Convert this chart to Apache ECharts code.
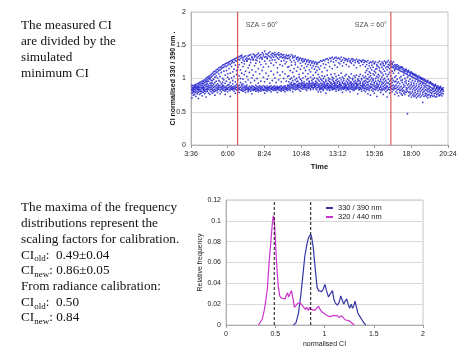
<!DOCTYPE html>
<html><head><meta charset="utf-8">
<script src="https://cdn.jsdelivr.net/npm/echarts@6.0.0/dist/echarts.min.js"></script>
<style>html,body{margin:0;padding:0;background:#fff}#c{width:474px;height:355px}</style>
</head><body><div id="c"></div>
<script>
// ---------- top chart ----------
const timeTicks = ['3:36','6:00','8:24','10:48','13:12','15:36','18:00','20:24'];
const szaTimes = [399, 1000];          // minutes after midnight (red lines)
const szaLabels = ['SZA = 60°', 'SZA = 60°'];
const ciRange = [0, 2];
// measurement times (minutes after midnight)
const ciTimes = [220,225,230,235,240,245,250,255,260,265,270,275,280,285,290,295,
300,305,310,315,320,325,330,335,340,345,350,355,360,365,370,375,380,385,390,395,400,405,410,415,
420,425,430,435,440,445,450,455,460,465,470,475,480,485,490,495,500,505,510,515,520,525,530,535,540,545,550,555,560,565,570,575,580,585,590,595,
600,605,610,615,620,625,630,635,640,645,650,655,660,665,670,675,680,685,690,695,700,705,710,715,
720,725,730,735,740,745,750,755,760,765,770,775,780,785,790,795,800,805,810,815,820,825,830,835,840,845,850,855,860,865,870,875,880,885,890,895,
900,905,910,915,920,925,930,935,940,945,950,955,960,965,970,975,980,985,990,995,1000,1005,1010,1015,
1020,1025,1030,1035,1040,1045,1050,1055,1060,1065,1070,1075,1080,1085,1090,1095,1100,1105,1110,1115,1120,1125,1130,1135,
1140,1145,1150,1155,1160,1165,1170,1175,1180,1185,1190,1195,1200,1205];
// normalised CI 330/390 (x100) measured at each time above
const ciValues = [
[90,84,87,78,82,71],[86,89,81,75,83,85,79],[88,83,90,76,80,86],[91,85,79,87,73,82,89],[84,92,88,80,77,86],[90,82,93,86,70,84,88,79],
[94,87,81,91,84,76],[89,95,83,86,92,78,81],[96,90,85,93,80,87,74],[92,97,88,82,95,84,79,86],[98,94,83,90,86,77,81],[100,95,88,97,84,80,91,72],
[102,98,92,85,88,81,95,83],[96,103,87,100,84,90,78],[104,99,93,86,101,82,89,76],[106,102,90,97,84,87,80,93],
[108,104,97,85,89,82,93,78],[110,106,99,87,83,91,80],[107,111,94,88,84,102,81,75],[113,109,96,86,90,82,104],[114,110,101,85,88,92,79,83],
[116,112,107,90,84,87,97],[117,113,95,89,82,86,103,77],[115,118,109,87,84,92,80],[120,116,100,85,90,83,94,88],[121,117,111,86,82,89,98],
[119,122,105,93,84,87,81,76],[123,118,112,88,85,96,83],[124,120,102,90,86,84,107,80],[122,125,115,87,83,91,99],[126,121,108,94,85,88,82,73],
[127,123,118,89,86,84,101],[125,128,110,97,87,83,92,85],[129,124,114,88,85,103,81],[127,130,120,95,86,89,84,78],[131,126,106,91,87,83,112],
[129,132,117,98,88,85,82],[133,128,121,104,86,90,84,79],[130,134,113,94,87,83,100],[132,135,124,108,89,85,82,91],
[128,131,118,99,87,84,81,92],[133,126,122,106,86,82,89],[129,134,111,95,88,85,83,79],[131,127,126,103,84,87,90],[134,129,116,98,86,82,85,80],
[130,135,120,109,88,84,83],[136,128,124,94,85,87,81],[131,133,113,101,86,83,89,77],[137,129,128,105,84,88,82],[132,135,119,97,87,85,83],
[128,134,123,110,86,81,84,90],[136,131,127,100,88,85,82],[133,138,115,93,84,87,83,80],[130,135,125,107,86,82,89],[136,132,121,96,88,85,81,84],
[139,131,129,112,87,83,86],[134,137,117,102,84,89,82],[132,141,126,95,86,88,83,78],[137,133,122,108,85,82,87],[131,136,130,99,89,84,81,86],
[138,134,118,104,87,83,85],[133,140,127,93,86,88,82],[136,131,123,111,84,85,89,80],[134,138,128,97,87,83,86],[132,137,120,106,85,88,82],
[139,135,128,101,89,84,86,83],[133,136,124,94,87,82,85],[137,131,116,109,86,88,84,79],[135,139,129,98,85,83,87],[132,136,121,105,88,86,82],
[137,133,126,95,84,89,85,81],[131,135,119,110,87,83,86],[136,132,127,100,85,88,82],[133,130,122,107,89,84,87,80],[131,135,125,96,86,83,85],
[134,130,117,103,88,85,82,90],
[135,131,118,104,95,90,87,84],[133,128,112,99,92,88,85,82],[136,125,120,101,94,89,86,91],[131,134,109,97,90,87,84,80],[132,127,115,103,93,88,91,85],
[134,124,121,98,89,86,83,92],[129,131,111,100,95,90,87,84],[132,126,117,96,91,88,85,89],[128,130,106,102,93,87,90,83],[131,123,114,99,88,92,86,81],
[127,129,119,97,94,89,85,91],[130,125,108,101,90,87,93,84],[126,128,116,95,92,88,86,89],[129,122,112,103,91,87,84,90],[125,127,118,98,93,89,86,82],
[128,121,107,100,90,92,87,85],[124,126,113,96,94,88,91,86],[127,120,110,102,89,92,85,83],[123,125,116,97,93,90,87,88],[126,119,105,99,91,94,86,84],
[122,124,114,101,92,89,87,90],[125,118,109,96,93,88,85,91],[121,123,112,100,90,94,86,83],[124,117,106,98,92,89,87,80],
[125,114,102,96,91,88,85,83],[119,127,99,93,89,86,84,80],[126,110,104,97,90,87,92,85],[122,128,100,95,88,91,84,82],[127,116,103,94,92,87,89,86],
[121,129,98,96,90,88,85,78],[130,112,105,93,91,86,89,83],[124,128,101,97,88,92,85,87],[131,118,99,95,90,87,84,82],[126,130,106,94,92,89,86,88],
[132,115,102,98,91,87,85,83],[125,129,100,96,89,93,86,84],[131,120,107,94,90,88,92,85],[127,132,103,97,91,87,84,81],[130,117,99,95,93,89,86,88],
[124,131,105,96,90,87,84,82],[129,122,101,94,92,88,91,85],[132,126,108,98,90,86,89,83],[128,119,102,95,93,87,85,79],[131,124,100,97,89,92,86,84],
[127,130,104,93,91,88,85,87],[129,121,106,96,90,86,89,82],[126,128,99,94,92,87,84,85],[130,118,103,97,89,91,86,83],[125,127,101,95,93,88,85,80],
[129,123,107,94,90,87,91,84],[126,130,100,98,92,86,88,83],[128,120,104,95,89,91,85,82],[124,127,102,97,93,87,84,86],[129,116,105,94,90,88,92,85],
[126,125,99,96,91,86,89,77],[123,128,103,97,92,87,84,83],[127,119,106,95,90,93,86,85],[125,126,100,98,89,88,84,81],[128,121,104,94,92,87,90,86],
[124,127,101,96,91,89,85,82],
[126,118,109,103,97,93,88,85,80],[121,125,112,100,95,90,86,83],[127,115,106,99,94,91,87,84,77],[123,119,110,102,96,89,85,82],
[125,116,108,104,98,92,88,86,75],[120,124,113,101,95,91,87,83],[126,117,107,99,97,90,85,81],[122,123,111,105,94,92,88,84,78],
[125,114,109,100,96,89,86,83],[119,121,115,103,93,91,87,85,73],[124,118,106,101,97,90,88,82],[126,116,112,104,95,92,86,84],
[121,122,110,99,96,89,87,83,79],[125,117,108,102,94,91,85,82],[123,120,114,105,98,93,88,84,76],[126,119,111,100,95,90,86,83],
[122,124,116,107,97,92,87,85,80],[125,118,113,103,94,89,88,82,72],[127,121,117,106,99,93,86,84],[124,120,115,109,96,91,87,83,78],
[126,122,118,104,98,92,88,85],[123,121,117,111,100,94,89,84,80],[125,119,116,108,97,90,86,83],[121,118,114,112,102,95,88,85,76],
[120,117,115,104,96,90,85,80],[118,121,114,99,93,87,83,78],[119,116,113,108,95,89,84,74],[117,115,112,101,92,86,82,79],
[116,118,111,103,97,88,83,77],[114,117,110,98,94,85,81,75],[115,112,109,105,91,87,82,78],[113,111,108,100,95,89,80,76],
[112,114,107,97,93,86,83,79],[111,109,106,102,90,85,81,47],[110,112,104,96,92,87,79,74],[109,107,105,99,89,84,80,76],
[108,110,103,94,91,86,78,72],[106,108,102,97,88,83,80,75],[107,105,101,93,90,85,77,73],[104,106,100,96,87,82,79,74],
[105,103,99,92,89,84,76,71],[103,101,98,95,86,81,78,73],[101,104,97,91,88,83,75],[102,100,96,93,85,80,77,72],
[99,101,95,90,87,82,74],[100,98,94,92,84,79,76,64],[97,99,93,89,86,81,73],[98,96,92,88,83,78,75],
[96,94,90,86,82,77,73],[95,97,89,84,80,75,71],[94,92,88,85,81,76],[93,95,87,83,79,74,72],[91,93,86,82,78,75],[92,90,85,84,80,73],
[90,88,86,81,77,74],[89,91,84,82,78,72],[88,87,85,80,76,73],[89,86,83,81,77],[87,85,84,79,75,74],[86,88,82,80,76],[85,84,83,78,74],[86,83,81,77]
];
// ---------- bottom chart: frequency distributions ----------
const freqRange = [0, 0.12];
const blueCI   = [0.685,0.71,0.735,0.755,0.77,0.785,0.80,0.82,0.835,0.845,0.86,0.87,0.885,0.90,0.91,0.925,0.94,0.955,0.97,0.985,1.005,1.02,1.04,1.06,1.08,1.095,1.11,1.13,1.15,1.165,1.18,1.195,1.21,1.225,1.24,1.255,1.27,1.285,1.295,1.31,1.325,1.34,1.36,1.38,1.40,1.42];
const blueFreq = [0,0.002,0.011,0.025,0.038,0.052,0.066,0.077,0.083,0.085,0.087,0.084,0.075,0.06,0.05,0.036,0.033,0.034,0.032,0.034,0.039,0.033,0.027,0.03,0.033,0.025,0.021,0.019,0.022,0.028,0.024,0.02,0.023,0.025,0.02,0.016,0.02,0.016,0.018,0.023,0.017,0.011,0.008,0.005,0.002,0];
const magCI   = [0.33,0.35,0.37,0.39,0.40,0.42,0.44,0.46,0.47,0.48,0.49,0.50,0.51,0.52,0.53,0.545,0.56,0.58,0.60,0.615,0.625,0.635,0.65,0.665,0.68,0.695,0.71,0.73,0.755,0.775,0.79,0.805,0.82,0.835,0.85,0.865,0.88,0.90,0.92,0.94,0.955,0.97,0.99,1.01,1.03,1.05,1.07,1.09,1.11,1.13,1.15,1.17,1.19,1.21,1.23,1.25,1.27,1.29,1.30];
const magFreq = [0,0.001,0.006,0.015,0.021,0.035,0.063,0.085,0.097,0.105,0.1,0.085,0.065,0.05,0.038,0.028,0.026,0.026,0.025,0.029,0.031,0.027,0.03,0.033,0.025,0.017,0.018,0.021,0.021,0.02,0.017,0.015,0.017,0.014,0.017,0.015,0.016,0.014,0.016,0.018,0.015,0.013,0.012,0.01,0.011,0.008,0.007,0.009,0.008,0.009,0.007,0.009,0.007,0.005,0.005,0.004,0.003,0.001,0];
const peakCI = [0.49, 0.86];
const seriesNames = ['330 / 390 nm', '320 / 440 nm'];

// ---------- slide text ----------
const topText = ['The measured CI', 'are divided by the', 'simulated', 'minimum CI'];
const bottomText = [
  [['The maxima of the frequency']],
  [['distributions represent the']],
  [['scaling factors for calibration.']],
  [['CI'], ['old', 1], [':  0.49±0.04']],
  [['CI'], ['new', 1], [': 0.86±0.05']],
  [['From radiance calibration:']],
  [['CI'], ['old', 1], [':  0.50']],
  [['CI'], ['new', 1], [': 0.84']]
];

const SERIF = '"Liberation Serif","Times New Roman",serif';
const SANS = '"Liberation Sans",Arial,sans-serif';
const mainFont = '13.2px ' + SERIF, subFont = '9px ' + SERIF;
const ctx = document.createElement('canvas').getContext('2d');
function tw(t, f) { ctx.font = f; return ctx.measureText(t).width; }

const graphics = [];
topText.forEach((t, i) => graphics.push({type:'text', x:21, y:26 + i*16,
  style:{text:t, font:mainFont, fill:'#111', verticalAlign:'middle', textVerticalAlign:'middle'}}));
bottomText.forEach((parts, i) => {
  let x = 21; const y = 208 + i*15.7;
  parts.forEach(p => {
    const f = p[1] ? subFont : mainFont;
    graphics.push({type:'text', x:x, y:y + (p[1] ? 4 : 0),
      style:{text:p[0], font:f, fill:'#111', verticalAlign:'middle', textVerticalAlign:'middle'}});
    x += tw(p[0], f);
  });
});

const scatterData = [];
ciTimes.forEach((t, i) => (ciValues[i] || []).forEach(v => scatterData.push([t, v/100])));

const chart = echarts.init(document.getElementById('c'), null, {renderer:'canvas'});
const axisLine = {show:true, lineStyle:{color:'#b0b0b0', width:1}};
const series = [
  {type:'scatter', xAxisIndex:0, yAxisIndex:0, data:scatterData, symbolSize:1.8,
   itemStyle:{color:'#1414cc'}, silent:true, z:2},
  {type:'scatter', xAxisIndex:0, yAxisIndex:0, symbolSize:0, silent:true, z:5,
   data: szaTimes.map((t, i) => ({value:[t, 1.8],
     label:{show:true, formatter:szaLabels[i], position: i === 0 ? 'right' : 'left',
            distance: i === 0 ? 8 : 4, fontSize:7, color:'#222', fontFamily:SANS}}))},
  {type:'line', name:seriesNames[0], xAxisIndex:1, yAxisIndex:1, symbol:'none',
   data: blueCI.map((x, i) => [x, blueFreq[i]]),
   lineStyle:{color:'#3535a8', width:1.2}, itemStyle:{color:'#3535a8'}, z:3},
  {type:'line', name:seriesNames[1], xAxisIndex:1, yAxisIndex:1, symbol:'none',
   data: magCI.map((x, i) => [x, magFreq[i]]),
   lineStyle:{color:'#cc33cc', width:1.2}, itemStyle:{color:'#cc33cc'}, z:3}
];
szaTimes.forEach(t => series.push({type:'line', xAxisIndex:0, yAxisIndex:0, symbol:'none', silent:true, z:4,
  data:[[t, ciRange[0]], [t, ciRange[1]]], lineStyle:{color:'#d03a3a', width:1}, itemStyle:{color:'#d03a3a'}}));
peakCI.forEach(x => series.push({type:'line', xAxisIndex:1, yAxisIndex:1, symbol:'none', silent:true, z:4,
  data:[[x, freqRange[0]], [x, freqRange[1]]], lineStyle:{color:'#111', width:1, type:[3,2]}, itemStyle:{color:'#111'}}));

chart.setOption({
  animation:false,
  backgroundColor:'#fff',
  textStyle:{fontFamily:SANS},
  graphic: graphics,
  grid:[
    {left:191, top:12, width:257, height:133, show:true, borderColor:'#c4c4c4', borderWidth:1, backgroundColor:'#fff'},
    {left:226, top:200, width:197, height:125, show:true, borderColor:'#c4c4c4', borderWidth:1, backgroundColor:'#fff'}
  ],
  xAxis:[
    {type:'value', gridIndex:0, min:216, max:1224, interval:144,
     axisLine:axisLine, axisTick:{show:true, length:3, lineStyle:{color:'#999'}},
     splitLine:{show:false},
     axisLabel:{fontSize:7, color:'#222', margin:6, fontFamily:SANS,
       formatter:v => timeTicks[Math.round((v-216)/144)] || ''},
     name:'Time', nameLocation:'middle', nameGap:18, nameMoveOverlap:false,
     nameTextStyle:{fontSize:7.5, fontWeight:'bold', color:'#111', fontFamily:SANS}},
    {type:'value', gridIndex:1, min:0, max:2, interval:0.5,
     axisLine:axisLine, axisTick:{show:true, length:3, lineStyle:{color:'#999'}},
     splitLine:{show:false},
     axisLabel:{fontSize:7, color:'#222', margin:6, fontFamily:SANS},
     name:'normalised CI', nameLocation:'middle', nameGap:16, nameMoveOverlap:false,
     nameTextStyle:{fontSize:7, color:'#222', fontFamily:SANS}}
  ],
  yAxis:[
    {type:'value', gridIndex:0, min:ciRange[0], max:ciRange[1], interval:0.5,
     axisLine:axisLine, axisTick:{show:false},
     splitLine:{show:true, lineStyle:{color:'#d8d8d8', width:1}},
     axisLabel:{fontSize:7, color:'#222', margin:5, fontFamily:SANS},
     name:'CI normalised 330 / 390 nm .', nameLocation:'middle', nameGap:14, nameRotate:90, nameMoveOverlap:false,
     nameTextStyle:{fontSize:7, fontWeight:'bold', color:'#111', fontFamily:SANS}},
    {type:'value', gridIndex:1, min:freqRange[0], max:freqRange[1], interval:0.02,
     axisLine:axisLine, axisTick:{show:false},
     splitLine:{show:true, lineStyle:{color:'#d8d8d8', width:1}},
     axisLabel:{fontSize:7, color:'#222', margin:5, fontFamily:SANS},
     name:'Relative frequency', nameLocation:'middle', nameGap:22, nameRotate:90, nameMoveOverlap:false,
     nameTextStyle:{fontSize:7, color:'#222', fontFamily:SANS}}
  ],
  legend:{
    data:seriesNames, orient:'vertical', left:326, top:204, itemGap:1,
    itemWidth:7, itemHeight:2, icon:'rect', padding:0,
    textStyle:{fontSize:7.5, color:'#222', fontFamily:SANS, lineHeight:8}
  },
  series: series
});
</script></body></html>
